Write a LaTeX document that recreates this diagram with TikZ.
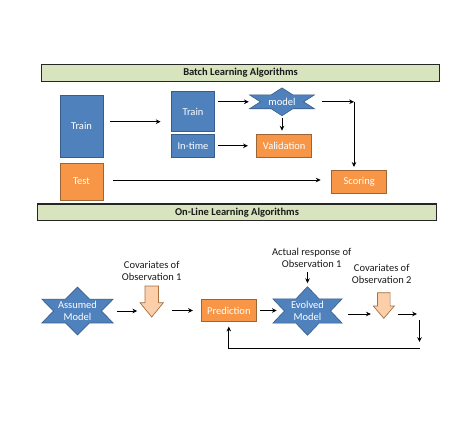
\documentclass[tikz,border=0pt]{standalone}
\usepackage{fontspec}
\setmainfont{Carlito}
\usetikzlibrary{arrows.meta,backgrounds,calc}
\definecolor{bfill}{HTML}{4F81BD}
\definecolor{bdraw}{HTML}{385D8A}
\definecolor{ofill}{HTML}{F79646}
\definecolor{odraw}{HTML}{9C6535}
\definecolor{gfill}{HTML}{D7E4BD}
\definecolor{pfill}{HTML}{FBCFAA}
\definecolor{pdraw}{HTML}{A8703F}
\definecolor{txt}{HTML}{1A1A1A}

\newcommand{\hexstar}[3]{%
  \begin{scope}[on background layer]
    \path[fill=bfill, draw=bdraw, line width=0.6pt, shift={(#1.center)}, x=#2pt, y=#3pt]
      (0,1) -- (0.2887,0.5) -- (0.866,0.5) -- (0.5774,0) -- (0.866,-0.5) -- (0.2887,-0.5)
      -- (0,-1) -- (-0.2887,-0.5) -- (-0.866,-0.5) -- (-0.5774,0) -- (-0.866,0.5)
      -- (-0.2887,0.5) -- cycle;
  \end{scope}}
\newcommand{\downblock}[5]{%
  \begin{scope}[on background layer]
    \path[fill=pfill, draw=pdraw, line width=0.7pt, shift={(#1.center)}]
      (-#2,-#4) -- (#2,-#4) -- (#2,#5) -- (#3,#5) -- (0,#4) -- (-#3,#5) -- (-#2,#5) -- cycle;
  \end{scope}}

\begin{document}
\begin{tikzpicture}[x=1pt,y=-1pt,
  every node/.style={font=\fontsize{10.5}{11.7}\selectfont, inner sep=0pt},
  bluebox/.style={draw=bdraw, fill=bfill, text=white, line width=0.8pt},
  orangebox/.style={draw=odraw, fill=ofill, text=white, line width=0.8pt},
  banner/.style={draw=black!85, fill=gfill, line width=1.1pt, minimum height=16.7pt,
    font=\fontsize{10.5}{12}\selectfont\bfseries, text=txt},
  startext/.style={text=white, align=center},
  lbl/.style={text=txt, align=center},
  arr/.style={-{Stealth[length=4.8pt,width=4.6pt]}, line width=1pt, black}]
\useasboundingbox (0,0) rectangle (474,426);
\begin{scope}[on background layer]
  \fill[white] (0,0) rectangle (474,426);
\end{scope}

% ---------- Batch learning ----------
\node[banner, minimum width=398pt] (b1) at (240.5,72.7) {Batch Learning Algorithms};

\node[bluebox, minimum width=43pt, minimum height=62.7pt] (trainbig) at (81.5,126.3) {Train};
\node[orangebox, minimum width=43pt, minimum height=37pt] (test) at (81.5,181.5) {Test};
\node[bluebox, minimum width=42.6pt, minimum height=40pt] (trains) at (193,111.7) {Train};
\node[bluebox, minimum width=42.6pt, minimum height=23.7pt] (intime) at (193,145.8) {In-time};
\node[startext, minimum width=65pt, minimum height=27.8pt] (model) at (282,101.8) {model};
\hexstar{model}{37.5}{13.9}
\node[orangebox, minimum width=55pt, minimum height=23pt] (valid) at (284.2,145.8) {Validation};
\node[orangebox, minimum width=55pt, minimum height=22.7pt] (scoring) at (359.2,181.8) {Scoring};
\coordinate (mc) at (354,101.8);

\draw[arr] ([xshift=7pt,yshift=4.6pt]trainbig.east) -- ([xshift=-10.7pt,yshift=-10pt]trains.west);
\draw[arr] ([xshift=3.5pt]trains.east |- model.west) -- ([xshift=-0.5pt]model.west);
\draw[arr] ([yshift=-2.5pt]model.south) -- ($(model.south |- valid.north)+(0,-3.3)$);
\draw[arr] ([xshift=3.5pt]intime.east) -- ([xshift=-8.4pt]valid.west);
\draw[arr] ([xshift=7.5pt]model.east) -- (mc);
\draw[arr] (mc) -- ($(mc |- scoring.north)+(0,-3.2)$);
\draw[arr] ([xshift=9.7pt,yshift=1.5pt]test.east) -- ([xshift=-10.7pt,yshift=1.5pt]test.east -| scoring.west);

% ---------- On-line learning ----------
\node[banner, minimum width=399.4pt] (b2) at (237,212.3) {On-Line Learning Algorithms};

\node[startext, minimum width=71.6pt, minimum height=47.8pt] (am) at (77.5,311) {Assumed\\Model};
\hexstar{am}{41.3}{23.9}
\node[minimum width=23.3pt, minimum height=31pt] (cov1) at (151.7,301.5) {};
\downblock{cov1}{6.7}{11.7}{15.5}{1.2}
\node[lbl] (lab1) at (151.7,271) {Covariates of\\Observation 1};
\node[orangebox, minimum width=55.7pt, minimum height=22.4pt] (pred) at (228.8,310.5) {Prediction};
\node[startext, minimum width=69.2pt, minimum height=48.6pt] (em) at (307.5,311) {Evolved\\Model};
\hexstar{em}{40}{24.3}
\node[lbl] (lab3) at (311.7,258) {Actual response of\\Observation 1};
\node[minimum width=21pt, minimum height=25.6pt] (cov2) at (383.8,305.5) {};
\downblock{cov2}{6.3}{10.5}{12.8}{0.5}
\node[lbl] (lab2) at (381.7,274) {Covariates of\\Observation 2};
\coordinate (r1) at (417,314);
\coordinate (r2) at (419.5,320);
\coordinate (r3) at (419.5,342);
\coordinate (r4) at (420,348);

\draw[arr] ([xshift=3.4pt]am.east) -- ([xshift=-2.7pt]am.east -| cov1.west);
\draw[arr] ([xshift=8.4pt]cov1.east |- pred.west) -- ([xshift=-7.6pt]pred.west);
\draw[arr] ([xshift=3.3pt]pred.east) -- ([xshift=4pt]em.west |- pred.east);
\draw[arr] ([yshift=-4.5pt]lab3.south -| em.north) -- ([yshift=3.4pt]em.north);
\draw[arr] ([xshift=6pt,yshift=-3pt]em.east) -- ([xshift=-2.3pt,yshift=-3pt]em.east -| cov2.west);
\draw[arr] ([xshift=3pt]cov2.east |- r1) -- (r1);
\draw[arr] (r2) -- (r3);
\draw[arr] (r4) -| ([yshift=-4.5pt]pred.south);
\end{tikzpicture}
\end{document}
